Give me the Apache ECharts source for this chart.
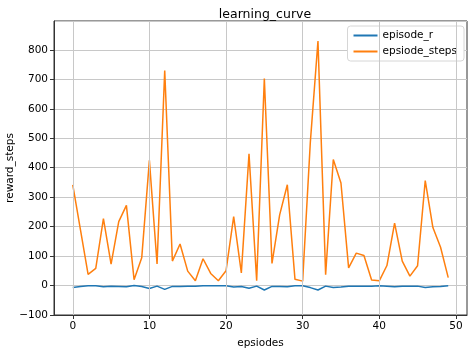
<!DOCTYPE html>
<html>
<head>
<meta charset="utf-8">
<script src="https://cdn.jsdelivr.net/npm/echarts@6/dist/echarts.min.js"></script>
<style>
  html, body { margin: 0; padding: 0; background: #fff; }
  #chart { width: 474px; height: 354px; }
</style>
</head>
<body>
<div id="chart"></div>
<script>
// 每一回合的数据
const episodes = Array.from({ length: 50 }, (_, i) => i)
const episodeR = [-7, -3, -1, -1, -4, -2, -3, -4, 0, -3,
    -10, -2, -13, -3, -3, -2, -2, -1, -1, -1,
    -1, -5, -3, -9, -2, -15, -3, -3, -4, -1,
    -1, -7, -15, -2, -7, -5, -2, -2, -2, -2,
    -1, -2, -4, -2, -2, -2, -7, -4, -3, -1]
const episodeSteps = [342, 190, 38, 58, 227, 73, 217, 272, 20, 94,
    425, 73, 730, 83, 141, 49, 16, 91, 41, 16,
    50, 234, 43, 447, 16, 703, 75, 240, 342, 21,
    15, 485, 830, 37, 428, 348, 60, 110, 102, 19,
    16, 68, 212, 83, 32, 67, 356, 197, 130, 27]
const xTicks = [0, 10, 20, 30, 40, 50]
const yTicks = [-100, 0, 100, 200, 300, 400, 500, 600, 700, 800]

const font = 'DejaVu Sans'
const gridColor = '#c8c8c8'
const pairs = (ys) => ys.map((v, i) => [episodes[i], v])

var myChart = echarts.init(document.getElementById('chart'))
var option = {
    animation: false,
    title: {
        text: 'learning_curve',
        left: 260, top: 3,
        textAlign: 'center',
        textStyle: { fontFamily: font, fontSize: 12.5, fontWeight: 'normal', color: '#000' }
    },
    legend: {
        orient: 'vertical',
        right: 10, top: 26,
        padding: [4, 7, 4, 6],
        itemGap: 5,
        itemWidth: 24, itemHeight: 2,
        icon: 'rect',
        backgroundColor: '#fff',
        borderColor: '#d6d6d6', borderWidth: 1, borderRadius: 3,
        textStyle: { fontFamily: font, fontSize: 10.5, color: '#000' },
        data: ['episode_r', 'epsiode_steps']
    },
    grid: {
        left: 54, right: 7, top: 21, bottom: 39,
        outerBoundsMode: 'none',
        containLabel: false,
        show: true, borderColor: '#333', borderWidth: 1
    },
    xAxis: {
        type: 'value',
        min: -2.45, max: 51.45,
        name: 'epsiodes', nameLocation: 'middle', nameGap: 23,
        nameMoveOverlap: false,
        nameTextStyle: { fontFamily: font, fontSize: 10.5, color: '#000' },
        axisLine: { show: true, onZero: false, lineStyle: { color: '#333' } },
        axisTick: { show: true, customValues: xTicks, length: 4, lineStyle: { color: '#333' } },
        axisLabel: { customValues: xTicks, fontFamily: font, fontSize: 10.5, color: '#000', margin: 6 },
        splitLine: { show: false }
    },
    yAxis: {
        type: 'value',
        min: -100, max: 898, interval: 100,
        name: 'reward_steps', nameLocation: 'middle', nameGap: 38,
        nameMoveOverlap: false,
        nameTextStyle: { fontFamily: font, fontSize: 10.5, color: '#000' },
        axisLine: { show: true, onZero: false, lineStyle: { color: '#333' } },
        axisTick: { show: true, length: 4, lineStyle: { color: '#333' } },
        axisLabel: {
            fontFamily: font, fontSize: 10.5, color: '#000', margin: 6,
            showMaxLabel: false,
            formatter: (v) => (yTicks.indexOf(v) >= 0 ? String(v).replace('-', '\u2212') : '')
        },
        splitLine: { show: true, lineStyle: { color: gridColor, width: 1 } }
    },
    series: [
        {
            // 竖向网格线
            name: 'vgrid', type: 'line', data: [],
            symbol: 'none', silent: true, z: 1,
            markLine: {
                silent: true, symbol: ['none', 'none'],
                label: { show: false },
                emphasis: { disabled: true },
                lineStyle: { color: gridColor, width: 1, type: 'solid' },
                data: xTicks.map((t) => ({ xAxis: t }))
            }
        },
        {
            name: 'episode_r', type: 'line', data: pairs(episodeR),
            symbol: 'none', color: '#1f77b4', z: 3,
            lineStyle: { width: 1.5, color: '#1f77b4' }
        },
        {
            name: 'epsiode_steps', type: 'line', data: pairs(episodeSteps),
            symbol: 'none', color: '#ff7f0e', z: 3,
            lineStyle: { width: 1.5, color: '#ff7f0e' }
        }
    ]
}
myChart.setOption(option)
</script>
</body>
</html>
